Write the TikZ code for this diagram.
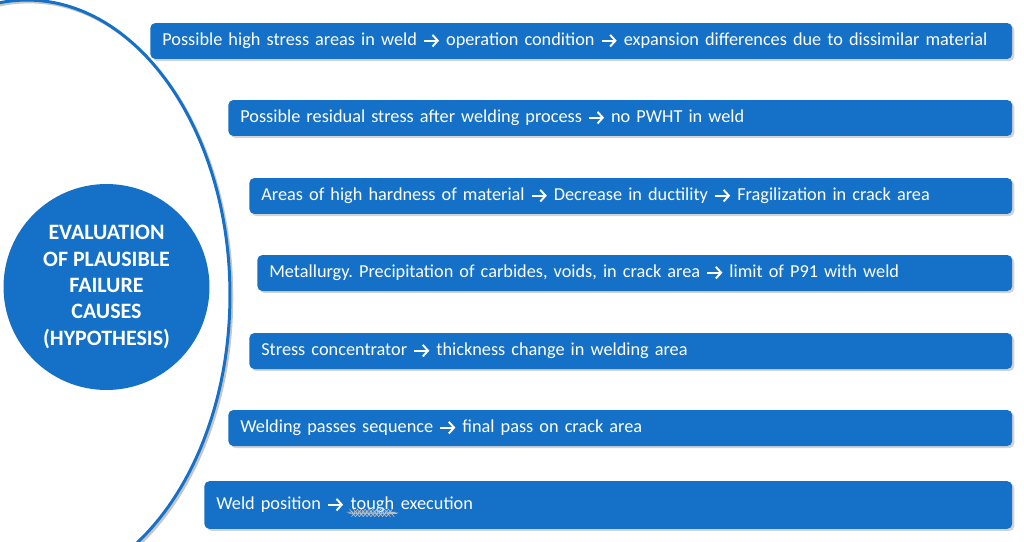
\documentclass[tikz,border=0pt]{standalone}
\usepackage{fontspec}
\setmainfont{Carlito}
\usetikzlibrary{shadows,decorations.pathmorphing,arrows.meta}
\definecolor{causeblue}{RGB}{21,113,199}
\newcommand{\causeto}{\tikz[baseline=-2.9pt]\draw[white,line width=1.1pt,-{Straight Barb[length=3pt,width=6.6pt,line width=1.1pt]}] (0pt,0pt) -- (8.6pt,0pt);}
\newcommand{\spellwave}[1]{\tikz[baseline=(sw.base)]{\node[inner sep=0pt] (sw) {#1};
        \draw[gray!50,line width=0.3pt,decorate,decoration={snake,amplitude=0.45pt,segment length=2.2pt}] ([yshift=-1.8pt]sw.base west) -- ([yshift=-1.8pt]sw.base east);}}
\frenchspacing

\begin{document}
\begin{tikzpicture}[x=0.02cm,y=-0.02cm]
        %
        % `cause' is used for the blue bars on the right.
        % `hypo' is used for the circle.
        % `rim' is used for the big arc behind the circle.
        \tikzstyle{cause} = [fill=causeblue,text=white,rounded corners=1mm,anchor=west,minimum height=0.72cm,inner xsep=0.24cm,align=left,font=\fontsize{10.4}{12.5}\selectfont,drop shadow={shadow xshift=1.2pt,shadow yshift=-1.2pt,opacity=0.35,fill=gray}]
        \tikzstyle{hypo} = [fill=causeblue,text=white,shape=circle,minimum size=4.12cm,inner sep=0pt,align=center,font=\fontsize{12.5}{15}\selectfont\bfseries]
        \tikzstyle{rim} = [draw=causeblue,line width=1.7pt]
        %
        \useasboundingbox (0,0) rectangle (1024,541);
        %
        % Arc
        \draw[gray!45,line width=1.5pt] (29,297) ellipse [x radius=4.06cm,y radius=5.9cm];
        \draw[rim] (27,295) ellipse [x radius=4.06cm,y radius=5.9cm];
        %
        % Hypothesis
        \node[hypo] (hyp) at (106.5,287) {EVALUATION\\OF PLAUSIBLE\\FAILURE\\CAUSES\\(HYPOTHESIS)};
        %
        % Causes
        \node[cause,text width=16.76cm] (c1) at (150,41) {Possible high stress areas in weld \causeto{} operation condition \causeto{} expansion differences due to dissimilar material};
        \node[cause,text width=15.20cm] (c2) at (228,118) {Possible residual stress after welding process \causeto{} no PWHT in weld};
        \node[cause,text width=14.78cm] (c3) at (249,196) {Areas of high hardness of material \causeto{} Decrease in ductility \causeto{} Fragilization in crack area};
        \node[cause,text width=14.62cm] (c4) at (257,273) {Metallurgy. Precipitation of carbides, voids, in crack area \causeto{} limit of P91 with weld};
        \node[cause,text width=14.78cm] (c5) at (249,351) {Stress concentrator \causeto{} thickness change in welding area};
        \node[cause,text width=15.20cm] (c6) at (228,428) {Welding passes sequence \causeto{} final pass on crack area};
        \node[cause,text width=15.68cm] (c7) at (204,505) {Weld position \causeto{} \spellwave{tough} execution};
        %
\end{tikzpicture}
\end{document}
